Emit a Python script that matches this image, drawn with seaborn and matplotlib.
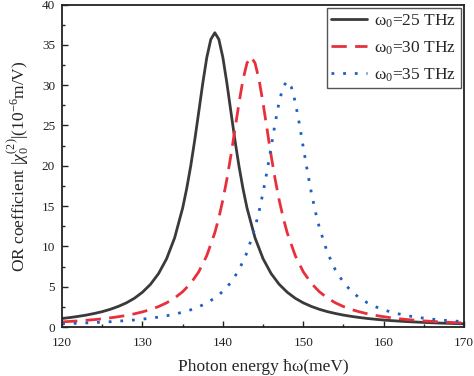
import numpy as np
import pandas as pd
import matplotlib
matplotlib.use('Agg')
import matplotlib.pyplot as plt
from matplotlib.ticker import MultipleLocator
import seaborn as sns

# Dữ liệu (meV, 10^-6 m/V)
x_25 = [120, 121, 122, 123, 124, 125, 126, 127, 128, 129, 130, 131, 132, 133, 134, 135,
        135.5, 136, 136.5, 137, 137.5, 138, 138.5, 139, 139.5, 140, 140.5, 141, 141.5, 142, 142.5,
        143, 144, 145, 146, 147, 148, 149, 150, 151, 152, 153, 154, 155, 156, 157, 158, 159,
        160, 161, 162, 163, 164, 165, 166, 167, 168, 169, 170]
y_25 = [1.07, 1.19, 1.33, 1.49, 1.69, 1.92, 2.21, 2.57, 3.01, 3.58, 4.33, 5.31, 6.64, 8.48, 11.07, 14.78,
        17.18, 19.98, 23.19, 26.69, 30.25, 33.43, 35.68, 36.5, 35.68, 33.43, 30.25, 26.69, 23.19, 19.98, 17.18,
        14.78, 11.07, 8.48, 6.64, 5.31, 4.33, 3.58, 3.01, 2.57, 2.21, 1.92, 1.69, 1.49, 1.33, 1.19, 1.07, 0.97,
        0.88, 0.80, 0.74, 0.68, 0.63, 0.58, 0.54, 0.50, 0.47, 0.44, 0.41]

x_30 = [120, 121, 122, 123, 124, 125, 126, 127, 128, 129, 130, 131, 132, 133, 134, 135, 136, 137, 138,
        139, 139.5, 140, 140.5, 141, 141.5, 142, 142.5, 143, 143.5, 144, 144.5, 145, 145.5, 146, 146.5,
        147, 147.5, 148, 149, 150, 151, 152, 153, 154, 155, 156, 157, 158, 159, 160, 161, 162, 163,
        164, 165, 166, 167, 168, 169, 170]
y_30 = [0.65, 0.71, 0.77, 0.85, 0.93, 1.03, 1.15, 1.29, 1.45, 1.65, 1.89, 2.18, 2.55, 3.01, 3.61, 4.39, 5.43, 6.86, 8.87,
        11.71, 13.57, 15.77, 18.34, 21.29, 24.50, 27.76, 30.68, 32.75, 33.5, 32.75, 30.68, 27.76, 24.50, 21.29, 18.34,
        15.77, 13.57, 11.71, 8.87, 6.86, 5.43, 4.39, 3.61, 3.01, 2.55, 2.18, 1.89, 1.65, 1.45, 1.29, 1.15, 1.03, 0.93,
        0.85, 0.77, 0.71, 0.65, 0.60, 0.55, 0.51]

x_35 = [120, 121, 122, 123, 124, 125, 126, 127, 128, 129, 130, 131, 132, 133, 134, 135, 136, 137, 138,
        139, 140, 141, 142, 143, 144, 144.5, 145, 145.5, 146, 146.5, 147, 147.5, 148, 148.5, 149, 149.5,
        150, 150.5, 151, 151.5, 152, 153, 154, 155, 156, 157, 158, 159, 160, 161, 162, 163, 164, 165,
        166, 167, 168, 169, 170]
y_35 = [0.42, 0.45, 0.48, 0.52, 0.57, 0.62, 0.67, 0.74, 0.81, 0.89, 0.99, 1.11, 1.24, 1.41, 1.61, 1.85, 2.14, 2.52, 3.00,
        3.61, 4.43, 5.54, 7.08, 9.25, 12.35, 14.35, 16.70, 19.38, 22.30, 25.28, 27.93, 29.82, 30.5, 29.82, 27.93, 25.28,
        22.30, 19.38, 16.70, 14.35, 12.35, 9.25, 7.08, 5.54, 4.43, 3.61, 3.00, 2.52, 2.14, 1.85, 1.61, 1.41, 1.24, 1.11,
        0.99, 0.89, 0.81, 0.74, 0.67]

labels = ['ω$_0$=25 THz', 'ω$_0$=30 THz', 'ω$_0$=35 THz']
colors = ['#3a3a3a', '#e8303c', '#1f5fc0']
styles = ['-', (0, (5.5, 3)), (0, (1, 3.2))]

sns.set_style('ticks')
plt.rcParams['font.family'] = ['Liberation Serif', 'DejaVu Serif']
plt.rcParams['mathtext.fontset'] = 'custom'
plt.rcParams['mathtext.rm'] = 'Liberation Serif'
plt.rcParams['mathtext.it'] = 'Liberation Serif:italic'
plt.rcParams['mathtext.bf'] = 'Liberation Serif:bold'

fig = plt.figure(figsize=(4.74, 3.76), dpi=100)
ax = fig.add_axes([0.131, 0.130, 0.848, 0.858])

for xs, ys, lab, c, ls in zip([x_25, x_30, x_35], [y_25, y_30, y_35], labels, colors, styles):
    df = pd.DataFrame({'E': xs, 'OR': ys})
    sns.lineplot(data=df, x='E', y='OR', ax=ax, color=c, linestyle=ls, linewidth=2, label=lab)

ax.set_xlim(120, 170)
ax.set_ylim(0, 40)
ax.xaxis.set_major_locator(MultipleLocator(10))
ax.xaxis.set_minor_locator(MultipleLocator(5))
ax.yaxis.set_major_locator(MultipleLocator(5))
ax.yaxis.set_minor_locator(MultipleLocator(2.5))
ax.tick_params(which='both', direction='in', labelsize=9.5, colors='#222222')
ax.tick_params(which='major', length=4, width=1)
ax.tick_params(which='minor', length=2.5, width=1)
ax.tick_params(axis='x', which='major', pad=7)
ax.tick_params(axis='y', which='major', pad=5)
for s in ax.spines.values():
    s.set_linewidth(1.3)
    s.set_color('#222222')

ax.set_xlabel('Photon energy ħω(meV)', fontsize=12.5, labelpad=7)
ax.set_ylabel('OR coefficient |$\\chi_0^{(2)}$|(10$^{-6}$m/V)', fontsize=12.5, labelpad=8)

leg = ax.legend(loc='upper right', fontsize=12.5, frameon=True, fancybox=False,
                edgecolor='#555555', handlelength=2.1, handletextpad=0.4,
                borderpad=0.25, labelspacing=0.55, borderaxespad=0.2, framealpha=1)
leg.get_frame().set_linewidth(1)

fig.savefig('out.png', dpi=100)
